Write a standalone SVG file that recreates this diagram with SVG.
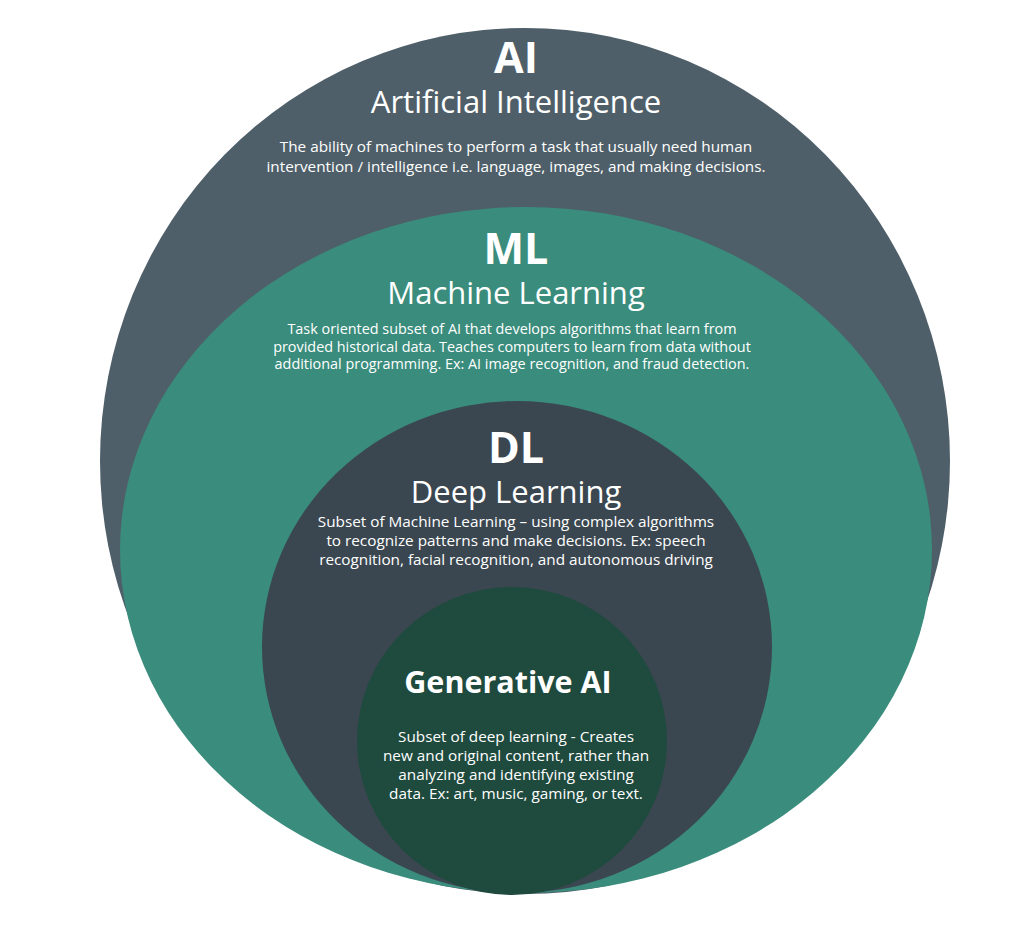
<svg xmlns="http://www.w3.org/2000/svg" width="1034" height="933" viewBox="0 0 1034 933">
<style>
text{font-family:"Open Sans","Liberation Sans",sans-serif;fill:#fff;text-anchor:middle}
.ab{font-size:43px;font-weight:700}
.ti{font-size:31px}
.ds{font-size:15.3px}
.dm{font-size:14.4px}
</style>
<rect width="1034" height="933" fill="#fff"/>
<g id="ai"><ellipse cx="525" cy="461" rx="425" ry="433" fill="#4f5f69"/>
<text class="ab" x="516" y="73">AI</text><text class="ti" x="516" y="113">Artificial Intelligence</text>
<text class="ds" x="516" y="152">The ability of machines to perform a task that usually need human</text>
<text class="ds" x="516" y="172">intervention / intelligence i.e. language, images, and making decisions.</text></g>
<g id="ml"><ellipse cx="526" cy="550" rx="406" ry="343" fill="#3a8c7c"/>
<text class="ab" x="516" y="264">ML</text><text class="ti" x="516" y="304">Machine Learning</text>
<text class="dm" x="512" y="334">Task oriented subset of AI that develops algorithms that learn from</text>
<text class="dm" x="512" y="352">provided historical data. Teaches computers to learn from data without</text>
<text class="dm" x="512" y="369">additional programming. Ex: AI image recognition, and fraud detection.</text></g>
<g id="dl"><ellipse cx="517" cy="647" rx="255" ry="246" fill="#3b4750"/>
<text class="ab" x="516" y="463">DL</text><text class="ti" x="516" y="503">Deep Learning</text>
<text class="ds" x="516" y="527">Subset of Machine Learning – using complex algorithms</text>
<text class="ds" x="516" y="546">to recognize patterns and make decisions. Ex: speech</text>
<text class="ds" x="516" y="565">recognition, facial recognition, and autonomous driving</text></g>
<g id="gen"><ellipse cx="512" cy="741" rx="155" ry="154" fill="#1f4a3e"/>
<text x="508" y="693" style="font-size:30.5px;font-weight:700">Generative AI</text>
<text class="ds" x="516" y="742">Subset of deep learning - Creates</text>
<text class="ds" x="516" y="761">new and original content, rather than</text>
<text class="ds" x="516" y="780">analyzing and identifying existing</text>
<text class="ds" x="516" y="799">data. Ex: art, music, gaming, or text.</text></g>
<g id="connectors"/>
</svg>
